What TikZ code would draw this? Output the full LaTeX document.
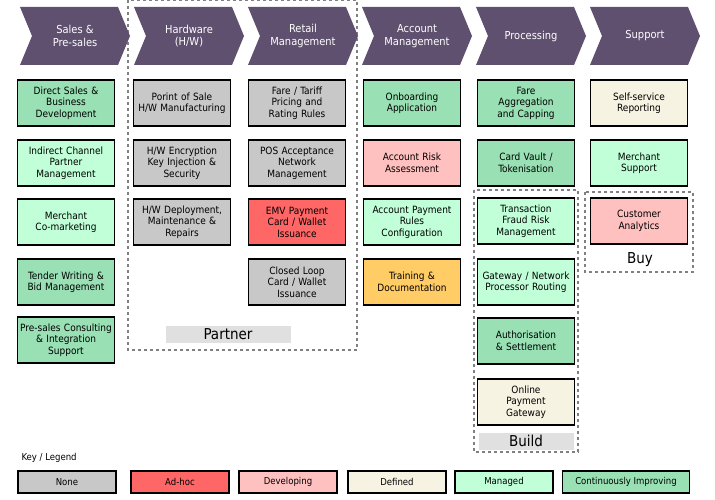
\documentclass[tikz,border=0pt]{standalone}
\usepackage{fontspec}
\setmainfont{DejaVu Sans Condensed}
\usetikzlibrary{positioning}
\definecolor{head}{HTML}{5E506E}
\definecolor{nolevel}{HTML}{C8C8C8}
\definecolor{adhoc}{HTML}{FF6666}
\definecolor{develop}{HTML}{FFC0C0}
\definecolor{defined}{HTML}{F6F3E3}
\definecolor{managed}{HTML}{C0FFD8}
\definecolor{improve}{HTML}{99E0B4}
\definecolor{train}{HTML}{FFCC66}
\tikzset{
  capab/.style={draw=black, line width=1.4pt, minimum width=97pt, minimum height=46pt,
    text width=96pt, align=center, font=\fontsize{10}{11.5}\selectfont, inner sep=0pt},
  key/.style={draw=black, line width=1.4pt, minimum width=98pt, minimum height=22pt,
    align=center, font=\fontsize{9.5}{10}\selectfont, inner sep=1pt},
  zone/.style={draw=gray, line width=1.3pt, dash pattern=on 3pt off 3pt},
  band/.style={fill=black!12, minimum height=17pt, font=\fontsize{15}{16}\selectfont, inner sep=0pt}
}
\newcommand{\chev}[4]{% x-left, x-right, name, text
  \fill[head] (#1,7) -- (#2,7) -- (#2+12,36) -- (#2,65) -- (#1,65) -- (#1+12,36) -- cycle;
  \node[text=white, align=center, font=\fontsize{11}{12.5}\selectfont] (#3) at ({(#1+#2)/2+6},36) {#4};}
\begin{document}
\begin{tikzpicture}[x=1pt, y=-1pt]
\useasboundingbox (0,0) rectangle (715,500);
% dashed groups
\draw[zone] (128,0) rectangle (357,350);
\node[band, minimum width=125pt] (partner) at (228,334) {Partner};
\draw[zone] (474,190) rectangle (578,452);
\node[band, minimum width=95pt] (build) at (526,441) {Build};
\draw[zone] (585,192) rectangle (693,272);
\node[font=\fontsize{15}{16}\selectfont] (buy) at (640,260) {Buy};
% header chevrons
\chev{20}{118}{sales}{Sales \&\\Pre-sales}
\chev{134}{232}{hw}{Hardware\\(H/W)}
\chev{248}{346}{retail}{Retail\\Management}
\chev{362}{460}{account}{Account\\Management}
\chev{476}{574}{proc}{Processing}
\chev{590}{688}{support}{Support}
% sales
\node[capab, fill=improve] (s1) at (66,103) {Direct Sales \&\\Business\\Development};
\node[capab, fill=managed] (s2) at (66,163) {Indirect Channel\\Partner\\Management};
\node[capab, fill=managed] (s3) at (66,222) {Merchant\\Co-marketing};
\node[capab, fill=improve] (s4) at (66,282) {Tender Writing \&\\Bid Management};
\node[capab, fill=improve] (s5) at (66,340) {Pre-sales Consulting\\\& Integration\\Support};
% hardware
\node[capab, fill=nolevel] (h1) at (182,103) {Porint of Sale\\H/W Manufacturing};
\node[capab, fill=nolevel] (h2) at (182,163) {H/W Encryption\\Key Injection \&\\Security};
\node[capab, fill=nolevel] (h3) at (182,222) {H/W Deployment,\\Maintenance \&\\Repairs};
% retail
\node[capab, fill=nolevel] (r1) at (297,103) {Fare / Tariff\\Pricing and\\Rating Rules};
\node[capab, fill=nolevel] (r2) at (297,163) {POS Acceptance\\Network\\Management};
\node[capab, fill=adhoc] (r3) at (297,222) {EMV Payment\\Card / Wallet\\Issuance};
\node[capab, fill=nolevel] (r4) at (297,282) {Closed Loop\\Card / Wallet\\Issuance};
% account
\node[capab, fill=improve] (a1) at (412,103) {Onboarding\\Application};
\node[capab, fill=develop] (a2) at (412,163) {Account Risk\\Assessment};
\node[capab, fill=managed] (a3) at (412,222) {Account Payment\\Rules\\Configuration};
\node[capab, fill=train] (a4) at (412,282) {Training \&\\Documentation};
% processing
\node[capab, fill=improve] (p1) at (526,103) {Fare\\Aggregation\\and Capping};
\node[capab, fill=improve] (p2) at (526,163) {Card Vault /\\Tokenisation};
\node[capab, fill=managed] (p3) at (526,221) {Transaction\\Fraud Risk\\Management};
\node[capab, fill=managed] (p4) at (526,282) {Gateway / Network\\Processor Routing};
\node[capab, fill=improve] (p5) at (526,341) {Authorisation\\\& Settlement};
\node[capab, fill=defined] (p6) at (526,402) {Online\\Payment\\Gateway};
% support
\node[capab, fill=defined] (u1) at (639,103) {Self-service\\Reporting};
\node[capab, fill=managed] (u2) at (639,163) {Merchant\\Support};
\node[capab, fill=develop] (u3) at (639,221) {Customer\\Analytics};
% legend
\node[anchor=west, font=\fontsize{9.5}{10}\selectfont] (legend) at (18,458) {Key / Legend};
\node[key, fill=nolevel] (k1) at (67,482) {None};
\node[key, fill=adhoc] (k2) at (180,482) {Ad-hoc};
\node[key, fill=develop] (k3) at (288,482) {Developing};
\node[key, fill=defined] (k4) at (397,482) {Defined};
\node[key, fill=managed] (k5) at (504,482) {Managed};
\node[key, fill=improve, minimum width=127pt] (k6) at (626,482) {Continuously Improving};
\end{tikzpicture}
\end{document}
